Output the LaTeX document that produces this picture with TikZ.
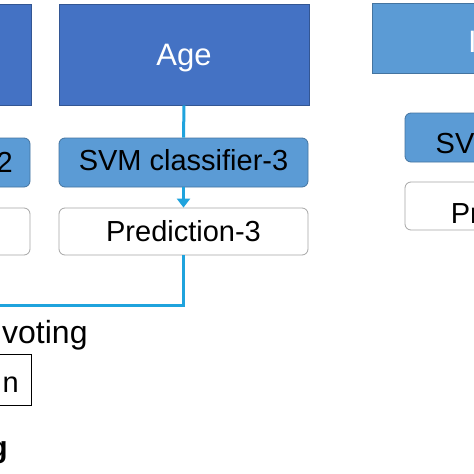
\documentclass[tikz,border=0pt]{standalone}
\usepackage{fontspec}
\setmainfont{Liberation Sans}
\usepackage{tikz}
\usetikzlibrary{arrows.meta,positioning}
\definecolor{featblue}{HTML}{4472C4}
\definecolor{svmblue}{HTML}{5B9BD5}
\definecolor{linkblue}{HTML}{1FA3DD}
\definecolor{predgray}{HTML}{A6A6A6}
\tikzset{
  featbox/.style={draw=featblue!75!black, fill=featblue, text=white, line width=0.8pt,
    minimum width=250pt, minimum height=101pt, inner sep=0pt, text depth=0pt,
    font=\fontsize{31}{36}\selectfont},
  svmbox/.style={draw=svmblue!75!black, fill=svmblue, rounded corners=6pt, line width=0.8pt,
    minimum width=249pt, minimum height=49pt, inner sep=0pt, text depth=5pt,
    font=\fontsize{29}{34}\selectfont},
  predbox/.style={draw=predgray, fill=white, rounded corners=6pt, line width=0.8pt,
    minimum width=249pt, minimum height=47pt, inner sep=0pt, font=\fontsize{29}{34}\selectfont},
  finalbox/.style={draw=black, line width=0.9pt, minimum width=200pt, minimum height=51pt},
  frag/.style={inner sep=0pt, font=\fontsize{29}{34}\selectfont},
  link/.style={draw=linkblue, line width=3pt},
}

\begin{document}
\begin{tikzpicture}[x=1pt,y=-1pt]
    \path[use as bounding box, fill=white] (0,0) rectangle (474,474);
    % left column
    \node[featbox] (feat2) at (-94,54.5) {};
    \node[svmbox] (svm2) at (-94.5,162.5) {};
    \node[predbox] (pred2) at (-94.5,231.5) {};
    \node[frag, anchor=base east] (svm2txt) at (13,172) {2};
    % middle column
    \node[featbox] (age) at (184,54.5) {Age};
    \node[svmbox] (svm3) at (183.5,162.5) {SVM classifier-3};
    \node[predbox] (pred3) at (183.5,231.5) {Prediction-3};
    \draw[link] (age.south) -- (svm3.north);
    \draw[link, -{Triangle[length=9pt,width=13pt]}] (svm3.south) -- (pred3.north);
    \coordinate (vote) at (-30,305);
    \draw[link] (pred3.south) |- (vote);
    % right column
    \node[featbox, fill=svmblue, draw=svmblue!75!black, minimum height=69.5pt] (feat4) at (497,38.5) {};
    \node[frag, text=white, font=\fontsize{31}{36}\selectfont, anchor=base west] (feat4txt) at (468,52) {I};
    \node[svmbox] (svm4) at (529.5,137.5) {};
    \node[frag, anchor=base west] (svm4txt) at (435.5,153) {SV};
    \node[predbox, minimum height=48pt] (pred4) at (529.5,206) {};
    \node[frag, anchor=base west] (pred4txt) at (450.7,223) {Pr};
    % voting and final output
    \node[frag, font=\fontsize{32}{38}\selectfont, anchor=base west] (votetxt) at (2,343) {voting};
    \node[finalbox] (final) at (-69,379.5) {};
    \node[frag, anchor=base east] (finaltxt) at (19,392) {n};
    \node[frag, font=\fontsize{30}{36}\selectfont\bfseries, anchor=base east] (gtxt) at (8,457) {g};
\end{tikzpicture}
\end{document}
